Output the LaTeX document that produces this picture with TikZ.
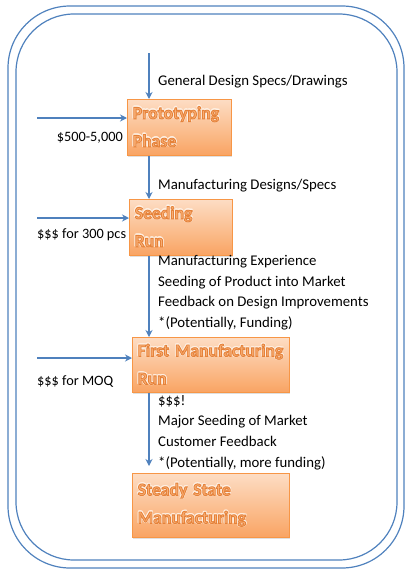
\documentclass[tikz,border=0pt]{standalone}
\usepackage{fontspec}
\setmainfont{Carlito}
\usepackage[copies]{contour}
\usetikzlibrary{arrows.meta,shadows}
\definecolor{frameblue}{HTML}{4F81BD}
\definecolor{boxtop}{HTML}{FDDDC4}
\definecolor{boxbot}{HTML}{F9A463}
\definecolor{boxline}{HTML}{F79646}
\definecolor{boxfill}{HTML}{F9AE74}
\definecolor{glow}{HTML}{FEF0E4}
\contourlength{1.1pt}
\contournumber{12}
\newcommand{\outl}[1]{{\color{boxfill}\special{pdf:literal direct 0.898 0.510 0.227 RG 0.9 w 2 Tr}#1\special{pdf:literal direct 0 Tr}}}
\newcommand{\gl}[1]{\mbox{\rlap{\contour{glow}{\color{glow}#1}}\outl{#1}}}
\tikzset{
  frame/.style={draw=frameblue, line width=1.2pt},
  arr/.style={draw=frameblue, line width=1.8pt, -{Stealth[length=7pt,width=7pt]}},
  stagebox/.style={draw=boxline, line width=0.6pt, top color=boxtop, bottom color=boxbot,
    drop shadow={shadow xshift=1pt, shadow yshift=-1.5pt, opacity=0.25},
    anchor=north west, align=left, inner xsep=5.5pt, inner ysep=0pt,
    font=\fontsize{17.6}{28}\selectfont\bfseries},
  lbl/.style={font=\fontsize{14.8}{20.7}\selectfont, inner sep=0pt, align=left},
  sidelbl/.style={lbl, font=\fontsize{14.3}{20.7}\selectfont},
}
\begin{document}
\begin{tikzpicture}[x=1pt,y=-1pt]
\useasboundingbox (0,0) rectangle (414,573);
\draw[frame, rounded corners=62pt] (8,6) rectangle (404,568);
\draw[frame, rounded corners=58pt] (16,14) rectangle (397,560);

\node[stagebox, minimum width=104pt, minimum height=56pt, text width=93pt] (proto) at (127,99) {\gl{Prototyping}\\\gl{Phase}};
\node[stagebox, minimum width=103pt, minimum height=56pt, text width=92pt] (seed) at (129,199) {\gl{Seeding}\\\gl{Run}};
\node[stagebox, minimum width=157pt, minimum height=55pt, text width=146pt] (first) at (132,337) {\gl{First Manufacturing}\\\gl{Run}};
\node[stagebox, minimum width=157pt, minimum height=64pt, text width=146pt] (steady) at (132,473) {\gl{Steady State}\\\gl{Manufacturing}};

\coordinate (top) at (149,53);
\coordinate (in1) at (37,118);
\coordinate (in2) at (37,218);
\coordinate (in3) at (37,358);

\draw[arr] (top) -- (top |- proto.north);
\draw[arr] (top |- proto.south) -- (top |- seed.north);
\draw[arr] (top |- seed.south) -- (top |- first.north);
\draw[arr, shorten >=7pt] (top |- first.south) -- (top |- steady.north);

\draw[arr] (in1) -- (in1 -| proto.west);
\draw[arr] (in2) -- (in2 -| seed.west);
\draw[arr] (in3) -- (in3 -| first.west);

\node[lbl, anchor=west] (l1) at (158,82) {General Design Specs/Drawings};
\node[lbl, anchor=west] (l2) at (158,186) {Manufacturing Designs/Specs};
\node[lbl, anchor=north west] (l3) at (158,255) {Manufacturing Experience\\Seeding of Product into Market\\Feedback on Design Improvements\\*(Potentially, Funding)};
\node[lbl, anchor=north west] (l4) at (158,395) {\$\$\$!\\Major Seeding of Market\\Customer Feedback\\*(Potentially, more funding)};

\node[sidelbl, anchor=east] (m1) at (123,138) {\$500-5,000};
\node[sidelbl, anchor=west] (m2) at (37,235) {\$\$\$ for 300 pcs};
\node[sidelbl, anchor=west] (m3) at (37,382) {\$\$\$ for MOQ};
\end{tikzpicture}
\end{document}
